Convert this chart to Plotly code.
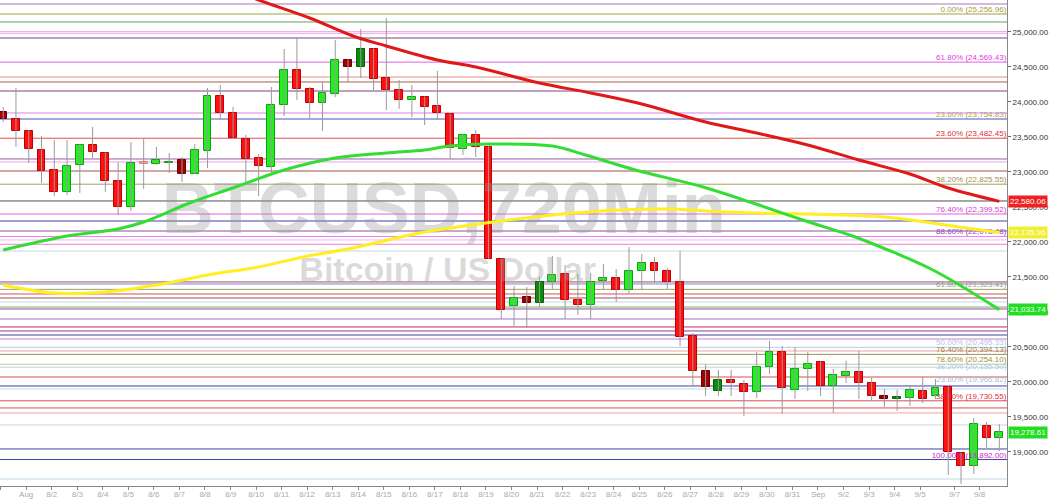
import plotly.graph_objects as go

# ---------------- data ----------------
opens = [23857, 23757, 23586, 23314, 23029, 22714, 23100, 23386, 23271, 22871,
         22500, 23143, 23114, 23130, 23171, 22971, 23300, 24086, 23843, 23471,
         23200, 23071, 23957, 24457, 24186, 23986, 24114, 24600, 24500, 24757,
         24343, 24171, 24029, 24071, 23943, 23829, 23329, 23529, 23357, 21757,
         21086, 21214, 21129, 21429, 21543, 21171, 21100, 21443, 21486, 21314,
         21586, 21700, 21586, 21429, 20657, 20157, 19871, 20029, 19971, 19857,
         20214, 20429, 19886, 20186, 20286, 19943, 20086, 20143, 19986, 19800,
         19757, 19771, 19871, 19800, 19929, 18986, 18800, 19371, 19200]
highs = [23929, 24200, 23600, 23514, 23457, 23457, 23400, 23643, 23280, 23143,
         23429, 23471, 23357, 23271, 23214, 23400, 24200, 24243, 23929, 23529,
         23257, 24214, 24757, 24914, 24214, 24286, 24886, 24610, 25043, 24770,
         25200, 24314, 24243, 24080, 24443, 23840, 23540, 23600, 23370, 21760,
         21371, 21357, 21500, 21800, 21671, 21543, 21557, 21686, 21614, 21928,
         21829, 21786, 21629, 21871, 20700, 20257, 20171, 20171, 20029, 20429,
         20586, 20514, 20500, 20429, 20300, 20186, 20300, 20443, 20057, 19900,
         19886, 19957, 20071, 20043, 19940, 18990, 19486, 19429, 19400]
lows = [23714, 23357, 23129, 22843, 22657, 22671, 22700, 23200, 22714, 22386,
        22443, 22757, 23100, 22986, 22857, 22971, 23057, 23743, 23486, 22857,
        22657, 22986, 23800, 24029, 23757, 23586, 24071, 24286, 24343, 24171,
        23886, 23900, 23786, 23671, 23743, 23186, 23243, 23214, 21750, 20900,
        20800, 20771, 21071, 21329, 20900, 20957, 20900, 21314, 21143, 21271,
        21314, 21414, 21329, 20514, 19943, 19800, 19800, 19800, 19514, 19771,
        20114, 19543, 19757, 19871, 19800, 19557, 19986, 19757, 19729, 19643,
        19586, 19657, 19700, 19757, 18671, 18540, 18686, 19057, 19014]
closes = [23757, 23586, 23329, 23014, 22714, 23086, 23386, 23286, 22871, 22500,
          23129, 23120, 23171, 23140, 22971, 23314, 24086, 23843, 23486, 23186,
          23086, 23957, 24457, 24186, 23986, 24129, 24600, 24500, 24757, 24329,
          24171, 24029, 24071, 23929, 23843, 23343, 23529, 23357, 21757, 21029,
          21200, 21129, 21429, 21529, 21171, 21100, 21429, 21486, 21314, 21586,
          21700, 21586, 21429, 20643, 20157, 19929, 20029, 19986, 19857, 20214,
          20429, 19914, 20186, 20257, 19943, 20100, 20143, 19986, 19800, 19757,
          19786, 19886, 19757, 19914, 19000, 18800, 19400, 19200, 19278.61]

dark_red_idx = [0, 14, 27, 41, 55, 69]
dark_green_idx = [28, 42, 56, 70]
pale_idx = [11]

# moving averages (sampled at candle index)
ma_red_x = [18, 20, 24, 27.4, 30, 34, 37, 42, 46, 50, 55, 59, 63, 67, 71, 74, 78]
ma_red_y = [25600, 25457, 25200, 24943, 24800, 24600, 24500, 24271, 24129, 23971,
            23714, 23557, 23386, 23171, 22971, 22771, 22580.06]
ma_green_x = [0, 5, 9, 11, 14.6, 18.2, 22, 26, 30, 33, 35, 38, 43, 45.6, 49.5,
              54.8, 58.7, 62.6, 66.5, 68.9, 72.8, 78]
ma_green_y = [21886, 22086, 22186, 22286, 22557, 22786, 23029, 23200, 23271, 23314,
              23371, 23400, 23371, 23243, 23029, 22786, 22557, 22314, 22086, 21914,
              21600, 21033.74]
ma_yellow_x = [0, 4, 8, 12, 16, 20, 23.5, 27.4, 32.6, 37.8, 43, 48.3, 52.2, 55,
               59, 63, 69, 75.4, 78]
ma_yellow_y = [21386, 21271, 21286, 21386, 21529, 21643, 21786, 21914, 22129, 22271,
               22386, 22457, 22471, 22443, 22414, 22400, 22357, 22200, 22135.96]

# horizontal level lines
level_prices = [25400, 25256.96, 25143, 25005, 24981, 24914, 24569.43, 24357, 24286,
                24157, 23843, 23757, 23482.45, 23186, 23143, 23014, 22825.55, 22586,
                22399.52, 22300, 22157, 22078.48, 22029, 21967, 21871, 21429, 21400,
                21323.41, 21257, 21200, 21143, 21071, 21043, 20900, 20786, 20729,
                20671, 20614, 20495.33, 20443, 20394.13, 20254.10, 20210, 20071,
                19943, 19900, 19730.55, 19629, 19557, 19386, 19043, 18892, 18614]
level_colors = ['#b070c0', '#a0a040', '#60a060', '#f0a0f0', '#f0a0f0', '#804080',
                '#e060e0', '#e09080', '#a06050', '#804080', '#e080e0', '#5050c0',
                '#e05050', '#9060a0', '#f0a0f0', '#a05050', '#a0a060', '#505050',
                '#e060e0', '#4040a0', '#9050a0', '#f080f0', '#f8b0f8', '#f080c0',
                '#c0d8e8', '#a05050', '#8080e0', '#a0a060', '#d05050', '#a05050',
                '#c0d8e8', '#70b070', '#9050a0', '#a070c0', '#d02060', '#804090',
                '#4040a0', '#c080e0', '#b0d0e8', '#f0a0a0', '#a09050', '#c8c8a0',
                '#c0d8e8', '#d05050', '#4040a0', '#c0d8e8', '#d05050', '#d05050',
                '#f0a0a0', '#c0d8e8', '#4040a0', '#4040a0', '#c0d8e8']

fib_prices = [25256.96, 24569.43, 23754.83, 23482.45, 22825.55, 22399.52, 22078.48,
              21323.41, 20495.33, 20394.13, 20254.10, 20155.50, 19966.82, 19730.55,
              18892.00]
fib_texts = ["0.00% (25,256.96)", "61.80% (24,569.43)", "23.60% (23,754.83)",
             "23.60% (23,482.45)", "38.20% (22,825.55)", "76.40% (22,399.52)",
             "88.60% (22,078.48)", "61.80% (21,323.41)", "50.00% (20,495.33)",
             "76.40% (20,394.13)", "78.60% (20,254.10)", "38.20% (20,155.50)",
             "23.60% (19,966.82)", "38.20% (19,730.55)", "100.00% (18,892.00)"]
fib_colors = ['#a0a040', '#e040e0', '#b0a060', '#e03030', '#a09050', '#d040d0',
              '#a040c0', '#a0a080', '#b0c8e0', '#a08040', '#a09040', '#b0c8e0',
              '#a0c0e0', '#e03030', '#d020d0']

tick_labels = ["7/31", "Aug"] + [f"8/{d}" for d in range(2, 32)] + \
              ["Sep", "9/2", "9/3", "9/4", "9/5", "9/7", "9/8"]
tick_pos = [2 * k - 0.2 for k in range(0, 37)] + [74.5, 76.45]

# ---------------- figure ----------------
n = len(opens)
idx = list(range(n))
XR = [-0.25, 78.6]
YR = [18514, 25457]

fig = go.Figure()

# watermark
fig.add_trace(go.Scatter(x=[34.5, 34.8], y=[22386, 21571], mode="text",
                         text=["BTCUSD,720Min", "Bitcoin / US Dollar"],
                         textfont=dict(size=[72, 34], color="rgba(150,150,150,0.34)",
                                       family="Liberation Sans", weight="bold"),
                         hoverinfo="skip", showlegend=False))

# fib labels (behind candles)
fig.add_trace(go.Scatter(x=[XR[1] - 0.05] * len(fib_prices), y=fib_prices, mode="text",
                         text=fib_texts, textposition="top left",
                         textfont=dict(size=8, color=fib_colors, family="Liberation Sans"),
                         hoverinfo="skip", showlegend=False))

# wicks
wx, wy = [], []
for i in idx:
    wx += [i, i, None]
    wy += [lows[i], highs[i], None]
fig.add_trace(go.Scatter(x=wx, y=wy, mode="lines", line=dict(color="#9a9a9a", width=1),
                         hoverinfo="skip", showlegend=False))

# bodies
fills, borders, bases, heights = [], [], [], []
for i in idx:
    o, c = opens[i], closes[i]
    up = c >= o
    if i in dark_red_idx:
        f, b = "#a00000", "#6a0000"
    elif i in dark_green_idx:
        f, b = "#0e8a0e", "#066006"
    elif i in pale_idx:
        f, b = "#f4a0a0", "#e08080"
    elif up:
        f, b = "#22ee22", "#12a012"
    else:
        f, b = "#ff1010", "#c00000"
    fills.append(f)
    borders.append(b)
    bases.append(min(o, c))
    heights.append(max(abs(c - o), 12))
fig.add_trace(go.Bar(x=idx, y=heights, base=bases, width=0.62,
                     marker=dict(color=fills, line=dict(color=borders, width=1)),
                     hoverinfo="skip", showlegend=False))

# moving averages
fig.add_trace(go.Scatter(x=ma_yellow_x, y=ma_yellow_y, mode="lines", line_shape="spline",
                         line=dict(color="#ffee22", width=3), showlegend=False))
fig.add_trace(go.Scatter(x=ma_green_x, y=ma_green_y, mode="lines", line_shape="spline",
                         line=dict(color="#33dd33", width=3), showlegend=False))
fig.add_trace(go.Scatter(x=ma_red_x, y=ma_red_y, mode="lines", line_shape="spline",
                         line=dict(color="#e01818", width=3), showlegend=False))

shapes = []
for p, col in zip(level_prices, level_colors):
    shapes.append(dict(type="line", xref="paper", x0=0, x1=1, yref="y", y0=p, y1=p,
                       line=dict(color=col, width=1), layer="below"))

annotations = []
for val, bg in [(ma_red_y[-1], "#ee2020"), (ma_yellow_y[-1], "#f2ee30"),
                (ma_green_y[-1], "#22dd22"), (closes[-1], "#22dd22")]:
    annotations.append(dict(xref="paper", x=1, xanchor="left", xshift=1, yref="y", y=val,
                            yanchor="middle", text=f"{val:,.2f}", showarrow=False,
                            bgcolor=bg, borderpad=1,
                            font=dict(color="white", size=8, family="Liberation Sans")))

fig.update_layout(
    width=1050, height=500,
    margin=dict(l=0, r=43, t=0, b=14),
    paper_bgcolor="white", plot_bgcolor="white",
    shapes=shapes, annotations=annotations,
    bargap=0, barmode="overlay",
    font=dict(family="Liberation Sans"),
    xaxis=dict(range=XR, tickvals=tick_pos, ticktext=tick_labels, showgrid=False,
               zeroline=False, showline=True, linecolor="#888", ticks="outside",
               ticklen=3, tickcolor="#888", tickfont=dict(size=8, color="#aaa"),
               ticklabelstandoff=-3, automargin=False, fixedrange=True),
    yaxis=dict(range=YR, side="right", tickvals=list(range(19000, 25001, 500)),
               tickformat=",.2f", showgrid=False, zeroline=False, showline=True,
               linecolor="#888", ticks="outside", ticklen=3, tickcolor="#666",
               tickfont=dict(size=8, color="#333"), automargin=False),
)

fig.write_html("out.html", config={"displayModeBar": False},
               post_script="document.body.style.margin='0px';")
